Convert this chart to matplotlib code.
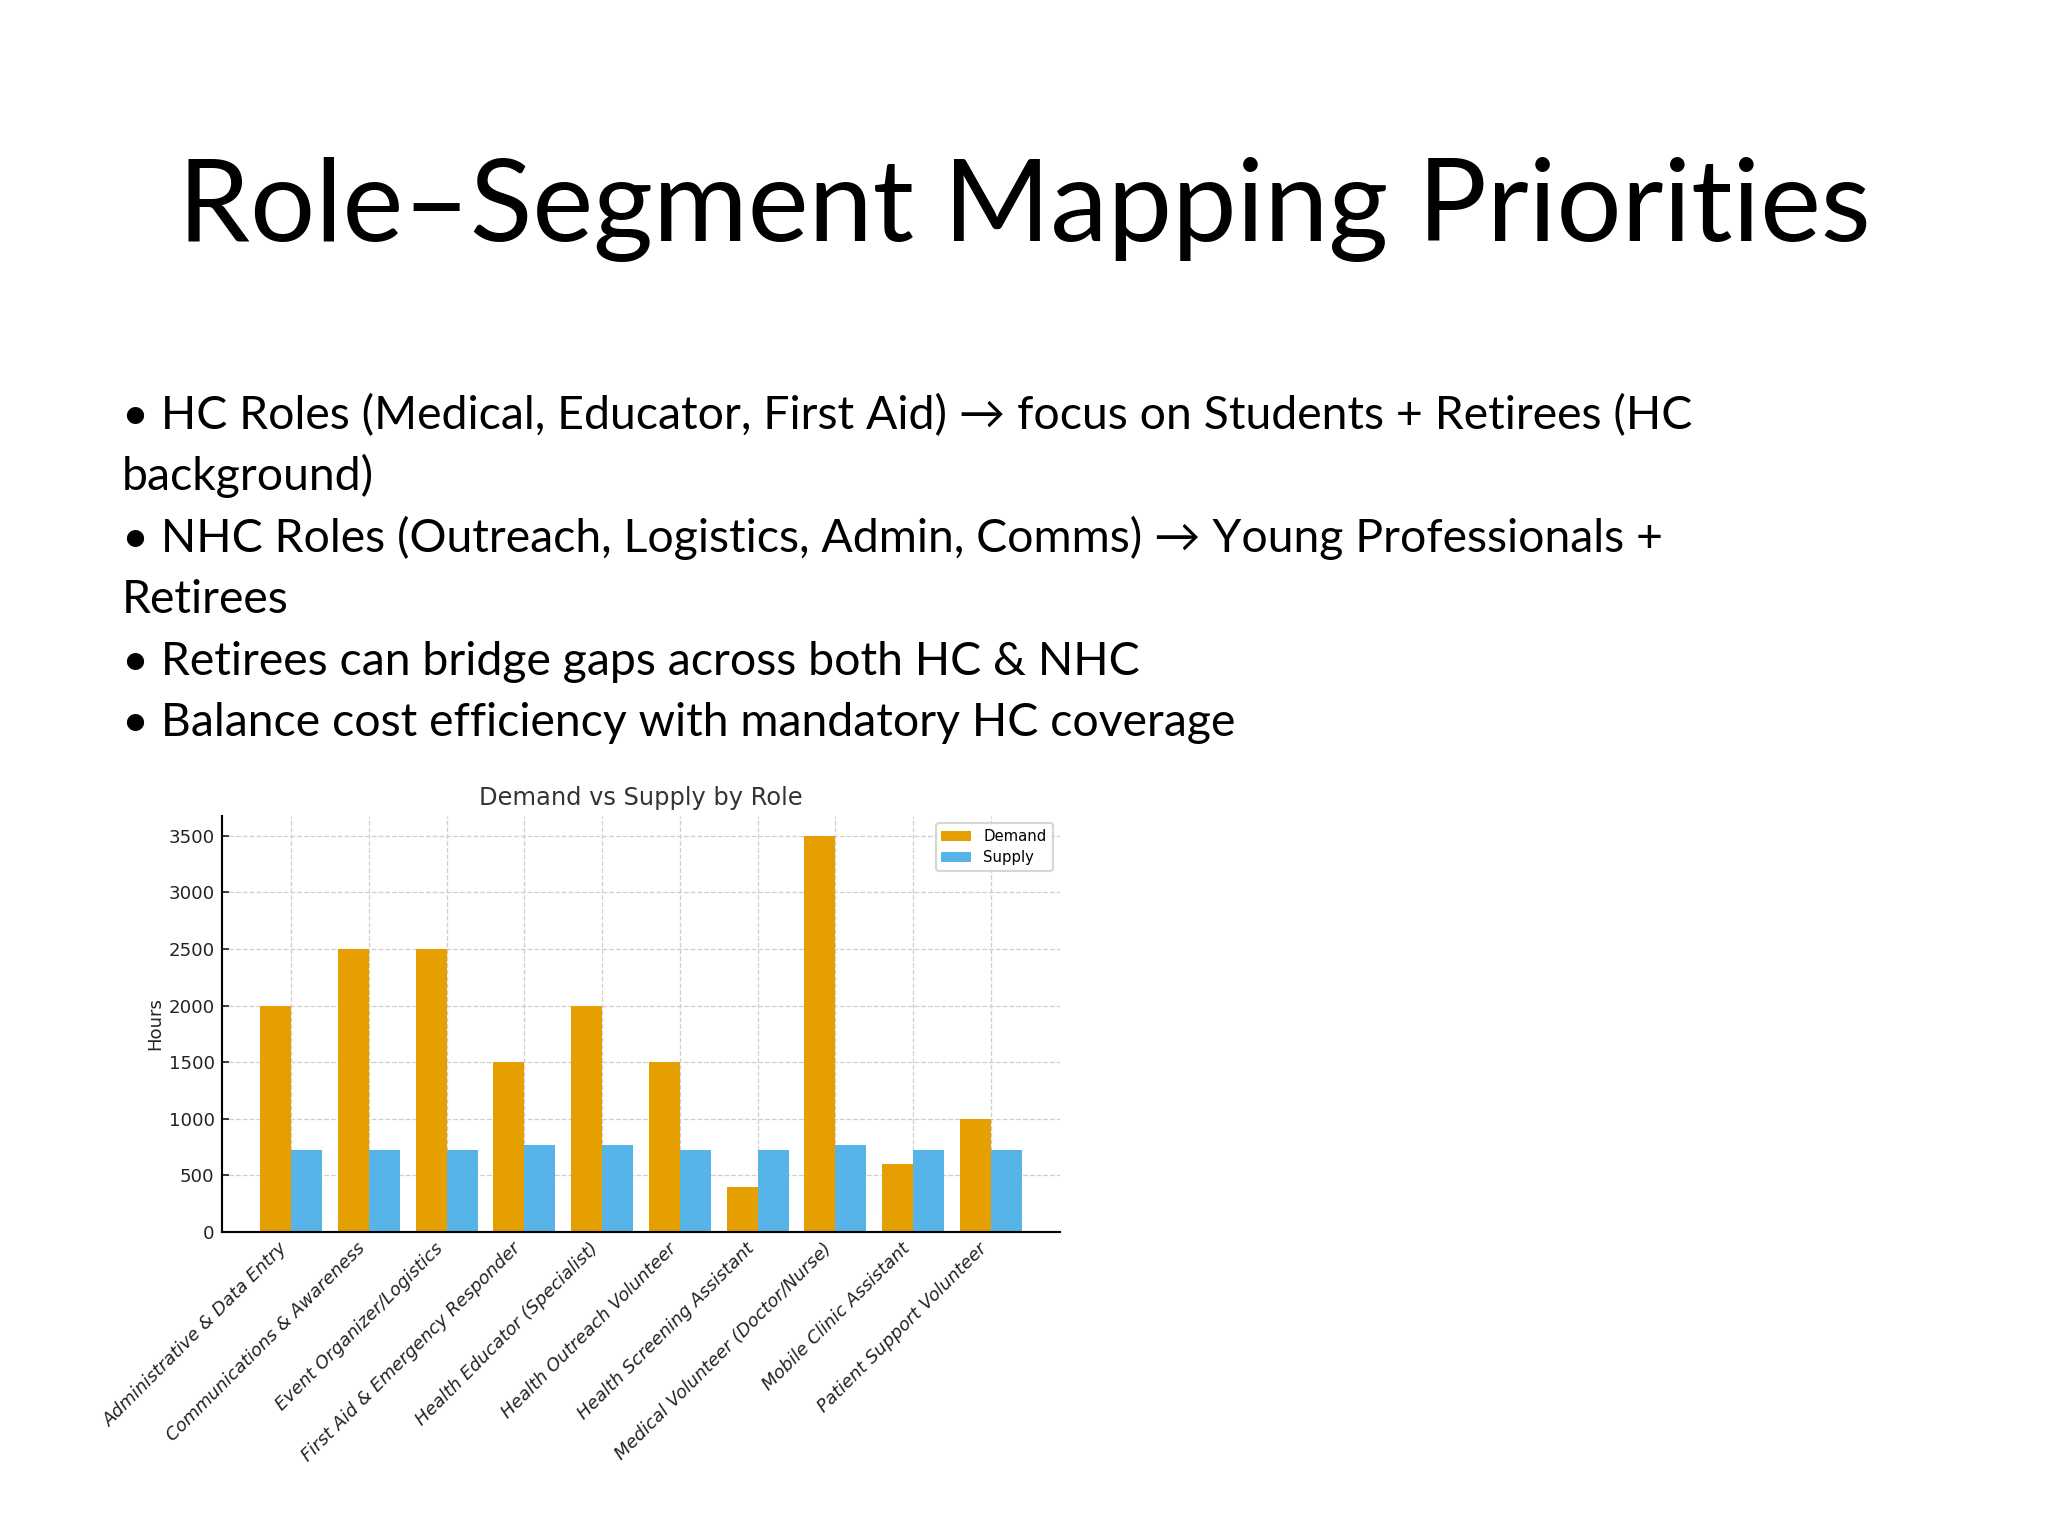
import matplotlib.pyplot as plt
import numpy as np

roles = [
    "Administrative & Data Entry",
    "Communications & Awareness",
    "Event Organizer/Logistics",
    "First Aid & Emergency Responder",
    "Health Educator (Specialist)",
    "Health Outreach Volunteer",
    "Health Screening Assistant",
    "Medical Volunteer (Doctor/Nurse)",
    "Mobile Clinic Assistant",
    "Patient Support Volunteer",
]
demand = [2000, 2500, 2500, 1500, 2000, 1500, 400, 3500, 600, 1000]
supply = [725, 725, 725, 765, 765, 725, 725, 765, 725, 725]

title = "Role\u2013Segment Mapping Priorities"
bullet_lines = [
    "\u2022 HC Roles (Medical, Educator, First Aid) \u2192 focus on Students + Retirees (HC",
    "background)",
    "\u2022 NHC Roles (Outreach, Logistics, Admin, Comms) \u2192 Young Professionals +",
    "Retirees",
    "\u2022 Retirees can bridge gaps across both HC & NHC",
    "\u2022 Balance cost efficiency with mandatory HC coverage",
]

W, H, DPI = 2048, 1536, 153.6
fig = plt.figure(figsize=(W / DPI, H / DPI), dpi=DPI)
fig.patch.set_facecolor("white")

slide_font = ["Lato", "DejaVu Sans"]

# slide title
fig.text(0.5, 1 - 241 / H, title, ha="center", va="baseline",
         fontsize=54, family=slide_font, color="black")

# bullet text, one line per row as wrapped on the slide
for i, line in enumerate(bullet_lines):
    y = 429 + i * 61.4
    fig.text(122 / W, 1 - y / H, line, ha="left", va="baseline",
             fontsize=21.75, family=slide_font, color="black")

# embedded chart
ax = fig.add_axes([222 / W, 1 - 1232 / H, (1060 - 222) / W, (1232 - 816) / H])
x = np.arange(len(roles))
w = 0.4
ax.bar(x - w / 2, demand, w, color="#E69F00", label="Demand")
ax.bar(x + w / 2, supply, w, color="#56B4E9", label="Supply")

ax.set_axisbelow(True)
ax.grid(True, linestyle="--", linewidth=0.6, color="#cfcfcf")
for s in ["top", "right"]:
    ax.spines[s].set_visible(False)
ax.spines["left"].set_linewidth(1.0)
ax.spines["bottom"].set_linewidth(1.0)

ax.set_xticks(x)
ax.set_xticklabels(roles, rotation=45, ha="right", fontsize=8.4, style="oblique",
                   color="#222222")
ax.tick_params(axis="y", direction="in", labelsize=8.5, colors="#222222")
ax.tick_params(axis="x", direction="in", colors="#222222")
ax.set_yticks([0, 500, 1000, 1500, 2000, 2500, 3000, 3500])
ax.set_ylabel("Hours", fontsize=8.5, color="#222222", labelpad=2)
ax.set_title("Demand vs Supply by Role", fontsize=11.3, color="#333333", pad=5)
ax.legend(loc="upper right", fontsize=7, frameon=True, edgecolor="#cccccc",
          handlelength=2.0, handleheight=0.6, labelspacing=0.4)

fig.savefig("out.png", dpi=DPI, facecolor="white")
